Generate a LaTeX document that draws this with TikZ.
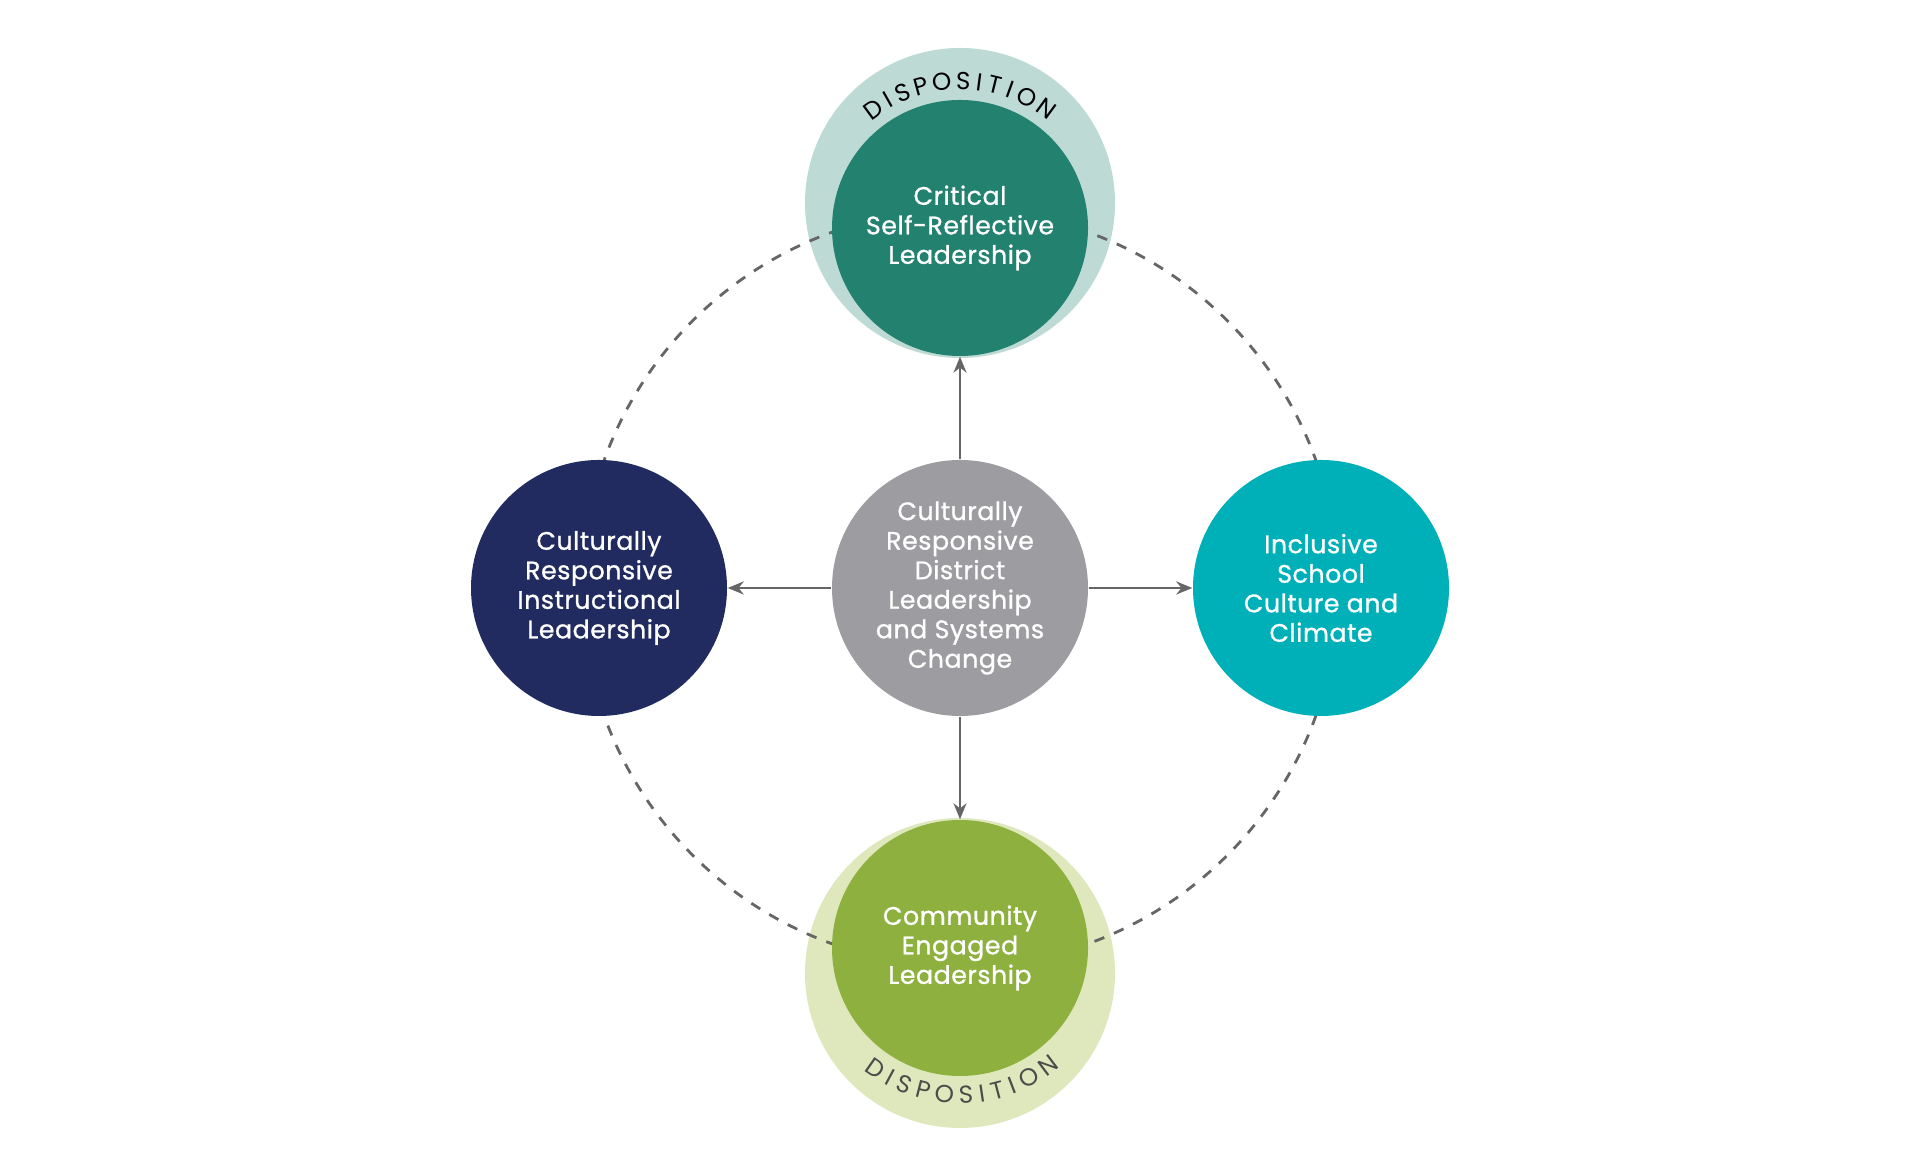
\documentclass[tikz,border=0pt]{standalone}
\usepackage{fontspec}
\setmainfont{Poppins}[LetterSpace=2, RawFeature={embolden=0.9}]
\newfontfamily\arcfont{Poppins}
\usetikzlibrary{positioning, calc, arrows.meta}
\definecolor{haloteal}{HTML}{BEDAD5}
\definecolor{darkteal}{HTML}{238170}
\definecolor{navy}{HTML}{222B5F}
\definecolor{midgray}{HTML}{9D9DA1}
\definecolor{brightteal}{HTML}{00B0B9}
\definecolor{leafgreen}{HTML}{8DB03F}
\definecolor{halogreen}{HTML}{DFE8BC}
\tikzset{%
  pillar/.style={circle, minimum size=25.6mm, inner sep=0mm, align=center,
    text=white, font=\fontsize{7.2}{8.4}\selectfont},
  halo/.style={circle, minimum size=31mm, inner sep=0mm},
  link/.style={-{Stealth[length=1.6mm,width=1.3mm]}, draw=black!60, thick},
  ring/.style={draw=black!60, dashed, thick},
  arcletter/.style={inner sep=0pt, font=\arcfont\fontsize{7}{7}\selectfont}
}
\begin{document}
\begin{tikzpicture}[node distance=3.6cm and 3.61cm, on grid]
  \useasboundingbox (0,0) rectangle (19.2,11.7);

  % halos behind the upper and lower circles
  \node[halo, fill=haloteal]  (tophalo) at (9.6,9.67) {};
  \node[halo, fill=halogreen] (bothalo) at (9.6,1.97) {};

  \draw[ring] (9.6,5.82) circle (3.78);

  \node[pillar, fill=midgray] (mid) at (9.6,5.82) {Culturally\\Responsive\\District\\Leadership\\and Systems\\Change};
  \node[pillar, fill=darkteal]   (top)   [above = of mid] {Critical\\Self-Reflective\\Leadership};
  \node[pillar, fill=leafgreen]  (bot)   [below = of mid] {Community\\Engaged\\Leadership};
  \node[pillar, fill=navy]       (left)  [left = of mid]  {Culturally\\Responsive\\Instructional\\Leadership};
  \node[pillar, fill=brightteal] (right) [right = of mid] {Inclusive\\School\\Culture and\\Climate};

  \draw[link] (mid) -- (top);
  \draw[link] (mid) -- (bot);
  \draw[link] (mid) -- (left);
  \draw[link] (mid) -- (right);

  % curved labels
  \foreach \ch/\d in {D/0,I/6.7,S/12.9,P/20.5,O/28.9,S/37.3,I/43.5,T/49.8,I/56.0,O/63.1,N/72.0}{
    \node[arcletter, text=black, rotate=36-\d] at ($(top)+(126-\d:1.47)$) {\ch};
    \node[arcletter, text=black!70, rotate=-35+\d] at ($(bot)+(235+\d:1.47)$) {\ch};
  }
\end{tikzpicture}
\end{document}
